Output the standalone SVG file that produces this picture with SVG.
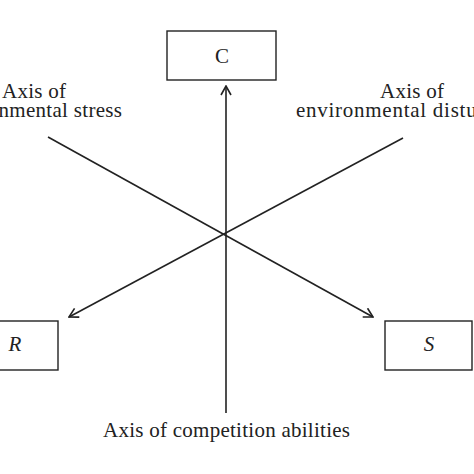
<svg xmlns="http://www.w3.org/2000/svg" width="474" height="474" viewBox="0 0 474 474">
<style>
.box{fill:#fff;stroke:#222;stroke-width:1.4}
.ax{stroke:#222;stroke-width:1.6;fill:none}
.t{font-family:"Liberation Serif","Times New Roman",serif;font-size:21px;fill:#222}
.lbl{font-family:"Liberation Serif","Times New Roman",serif;font-size:21px;fill:#222;text-anchor:middle}
</style>
<defs>
<marker id="arr" viewBox="0 0 12 12" refX="11" refY="6" markerWidth="12" markerHeight="12" markerUnits="userSpaceOnUse" orient="auto">
<path d="M2,1 L11,6 L2,11" fill="none" stroke="#222" stroke-width="1.6"/>
</marker>
</defs>
<rect width="474" height="474" fill="#fff"/>
<g id="connectors">
<line class="ax" x1="226" y1="413" x2="226" y2="86" marker-end="url(#arr)"/>
<line class="ax" x1="48" y1="137" x2="373" y2="317" marker-end="url(#arr)"/>
<line class="ax" x1="403" y1="138" x2="69" y2="317" marker-end="url(#arr)"/>
</g>
<g id="node-C">
<rect class="box" x="167" y="31" width="109" height="49"/>
<text class="lbl" x="222" y="63">C</text>
</g>
<g id="node-R">
<rect class="box" x="-2" y="321" width="60" height="49"/>
<text class="lbl" x="15" y="351" font-style="italic">R</text>
</g>
<g id="node-S">
<rect class="box" x="385" y="321" width="87" height="49"/>
<text class="lbl" x="429" y="351" font-style="italic">S</text>
</g>
<g id="labels">
<text class="t" x="2" y="98" textLength="64">Axis of</text>
<text class="t" x="-57" y="117" textLength="179">environmental stress</text>
<text class="t" x="380" y="98" textLength="64">Axis of</text>
<text class="t" x="296" y="117" textLength="241">environmental disturbance</text>
<text class="t" x="103" y="437" textLength="247">Axis of competition abilities</text>
</g>
</svg>
